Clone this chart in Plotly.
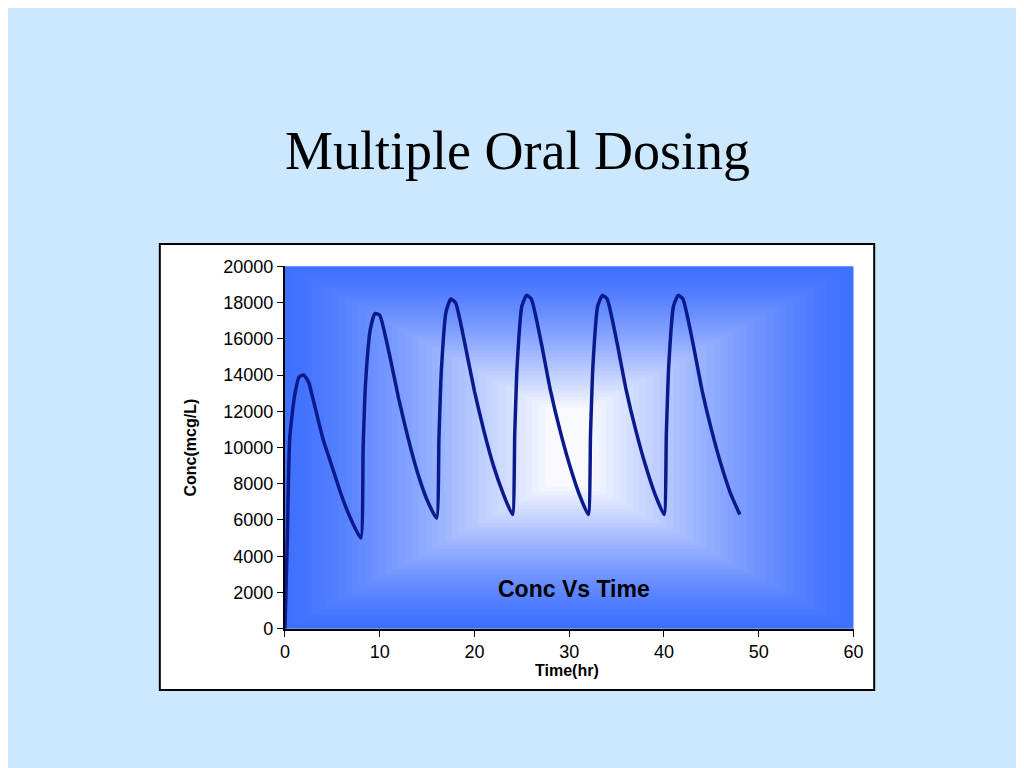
import plotly.graph_objects as go

# hours and concentrations, one dose every 8 hr
time_hr = [0, 0.25, 0.5, 1, 1.5, 2, 2.5, 3, 4, 5, 6, 7, 8,
           8.25, 8.5, 9, 9.5, 10, 11, 12, 13, 14, 15, 16,
           16.25, 16.5, 17, 17.5, 18, 19, 20, 21, 22, 23, 24,
           24.25, 24.5, 25, 25.5, 26, 27, 28, 29, 30, 31, 32,
           32.25, 32.5, 33, 33.5, 34, 35, 36, 37, 38, 39, 40,
           40.25, 40.5, 41, 41.5, 42, 43, 44, 45, 46, 47, 48]
conc = [0, 5000, 10500, 12800, 13900, 14000, 13600, 12600, 10500, 8900, 7300, 6000, 5000,
        10000, 13500, 16500, 17400, 17300, 15200, 12700, 10500, 8600, 7100, 6100,
        10500, 14200, 17500, 18200, 18000, 15700, 13100, 10900, 9000, 7500, 6300,
        10800, 14500, 17800, 18400, 18200, 15900, 13200, 11000, 9100, 7500, 6300,
        10800, 14500, 17800, 18400, 18200, 15900, 13200, 11000, 9100, 7500, 6300,
        10800, 14500, 17800, 18400, 18200, 15900, 13200, 11000, 9100, 7500, 6300]

W, H = 1024, 768
x0, x1, y0, y1 = 276, 853, 255, 627

fig = go.Figure()
fig.add_trace(go.Scatter(x=time_hr, y=conc, mode="lines",
                         line=dict(color="#0A1A8C", width=3.5, shape="spline", smoothing=0.5),
                         showlegend=False))

shapes = [dict(type="rect", xref="paper", yref="paper", x0=149/W, x1=874/W,
               y0=1-690/H, y1=1-232/H, line=dict(color="black", width=2),
               fillcolor="white", layer="below")]
# gradient fill of the plot area: nested rectangles, blue edge to white centre
n = 40
for i in range(n):
    f = i / n
    r = int(64 + (255 - 64) * f ** 1.3)
    g = int(112 + (255 - 112) * f ** 1.3)
    shapes.append(dict(type="rect", xref="x domain", yref="y domain",
                       x0=0.47 * f, x1=1 - 0.47 * f, y0=0.4 * f, y1=1 - 0.4 * f,
                       line=dict(width=0), fillcolor=f"rgb({r},{g},255)", layer="below"))

fig.update_layout(
    width=W, height=H, autosize=False, margin=dict(l=0, r=0, t=0, b=0),
    paper_bgcolor="#CCE8FF", plot_bgcolor="rgba(0,0,0,0)",
    shapes=shapes,
    font=dict(family="Liberation Sans, Arial", size=18, color="black"),
    annotations=[
        dict(text="Multiple Oral Dosing", xref="paper", yref="paper", x=0.5, y=1-137/H,
             yanchor="middle", showarrow=False,
             font=dict(family="Liberation Serif, Times New Roman", size=54)),
        dict(text="<b>Conc Vs Time</b>", xref="x", yref="y", x=30.5, y=2200,
             showarrow=False, font=dict(size=23)),
        dict(text="<b>Time(hr)</b>", xref="paper", yref="paper", x=562/W, y=1-670/H,
             yanchor="middle", showarrow=False, font=dict(size=16)),
        dict(text="<b>Conc(mcg/L)</b>", xref="paper", yref="paper", x=170/W, y=1-441/H,
             showarrow=False, textangle=-90, font=dict(size=16)),
    ],
    xaxis=dict(domain=[x0/W, x1/W], range=[0, 60], tickvals=[0, 10, 20, 30, 40, 50, 60],
               showgrid=False, zeroline=False, showline=True, linecolor="black", linewidth=2,
               ticks="outside", ticklen=6, tickcolor="black"),
    yaxis=dict(domain=[1-y1/H, 1-y0/H], range=[0, 20000], dtick=2000, tickformat="d",
               showgrid=False, zeroline=False, showline=True, linecolor="black", linewidth=2,
               ticks="outside", ticklen=6, tickcolor="black"),
)

fig.write_html("out.html")
